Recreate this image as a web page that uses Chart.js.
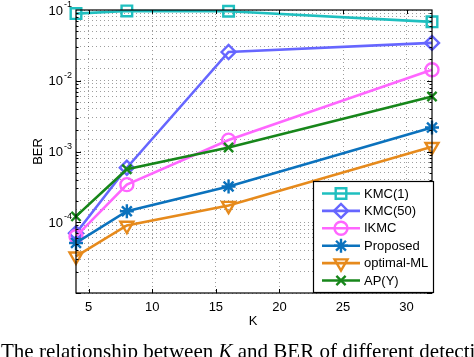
<!DOCTYPE html>
<html><head><meta charset="utf-8">
<script src="https://cdn.jsdelivr.net/npm/chart.js@4/dist/chart.umd.min.js"></script>
<style>html,body{margin:0;padding:0;background:#fff;}#wrap{width:474px;height:357px;position:relative;}</style>
</head><body><div id="wrap"><canvas id="c" width="474" height="357"></canvas></div>
<script>
const K = [4, 8, 16, 32];
const kmc1 = [0.089, 0.097, 0.096, 0.068];
const kmc50 = [7.0e-5, 5.9e-4, 0.0255, 0.0343];
const ikmc = [6.3e-5, 3.4e-4, 1.45e-3, 0.0143];
const proposed = [5.1e-5, 1.43e-4, 3.2e-4, 2.18e-3];
const optimalML = [3.3e-5, 9.0e-5, 1.72e-4, 1.17e-3];
const apY = [1.21e-4, 5.6e-4, 1.14e-3, 6.0e-3];
const xTicks = [5, 10, 15, 20, 25, 30];
const yMajor = [1e-4, 1e-3, 1e-2, 1e-1];
const yExp = ['-4', '-3', '-2', '-1'];
const seriesNames = ['KMC(1)', 'KMC(50)', 'IKMC', 'Proposed', 'optimal-ML', 'AP(Y)'];
const seriesData = [kmc1, kmc50, ikmc, proposed, optimalML, apY];
const colors = ['#1fbfbf', '#6666ff', '#ff66ff', '#0b72bd', '#e68a1c', '#17861a'];
const markers = [
  {style: 'rect', r: 7.5, rot: 0},
  {style: 'rectRot', r: 7, rot: 0},
  {style: 'circle', r: 6.5, rot: 0},
  {style: 'star', r: 7, rot: 0},
  {style: 'triangle', r: 7.5, rot: 180},
  {style: 'crossRot', r: 6.5, rot: 0}
];

const FONT = '"Liberation Sans", Arial, Helvetica, sans-serif';

const datasets = seriesNames.map((name, i) => ({
  label: name,
  data: K.map((k, j) => ({x: k, y: seriesData[i][j]})),
  borderColor: colors[i],
  backgroundColor: colors[i],
  borderWidth: 2.6,
  pointStyle: markers[i].style,
  pointRadius: markers[i].r,
  pointRotation: markers[i].rot,
  pointBorderWidth: 2.4,
  pointBackgroundColor: 'rgba(0,0,0,0)',
  pointBorderColor: colors[i],
  tension: 0,
  clip: false,
  order: 10 - i
}));

const decor = {
  id: 'decor',
  afterDraw(chart) {
    const ctx = chart.ctx;
    const a = chart.chartArea;
    const xs = chart.scales.x, ys = chart.scales.y;
    ctx.save();
    ctx.strokeStyle = '#000';
    ctx.lineWidth = 1.2;
    ctx.strokeRect(a.left, a.top, a.right - a.left, a.bottom - a.top);
    ctx.lineWidth = 1;
    ctx.beginPath();
    xTicks.forEach(v => {
      const px = Math.round(xs.getPixelForValue(v)) + 0.5;
      ctx.moveTo(px, a.bottom); ctx.lineTo(px, a.bottom - 4);
      ctx.moveTo(px, a.top); ctx.lineTo(px, a.top + 4);
    });
    for (let e = -5; e <= -2; e++) {
      for (let m = 1; m <= 9; m++) {
        const v = m * Math.pow(10, e);
        if (v < ys.min || v > ys.max) continue;
        const py = Math.round(ys.getPixelForValue(v)) + 0.5;
        const len = m === 1 ? 5 : 2.5;
        ctx.moveTo(a.left, py); ctx.lineTo(a.left + len, py);
        ctx.moveTo(a.right, py); ctx.lineTo(a.right - len, py);
      }
    }
    ctx.stroke();
    ctx.fillStyle = '#000';
    yMajor.forEach((v, i) => {
      const py = ys.getPixelForValue(v);
      ctx.font = '13px ' + FONT;
      ctx.textAlign = 'right';
      ctx.textBaseline = 'middle';
      ctx.fillText('10', 63, py + 1);
      ctx.font = '9px ' + FONT;
      ctx.textAlign = 'left';
      ctx.textBaseline = 'alphabetic';
      ctx.fillText(yExp[i], 64, py - 3);
    });
    ctx.save();
    ctx.translate(38, (a.top + a.bottom) / 2);
    ctx.rotate(-Math.PI / 2);
    ctx.font = '13px ' + FONT;
    ctx.textAlign = 'center';
    ctx.textBaseline = 'middle';
    ctx.fillText('BER', 0, 0);
    ctx.restore();
    ctx.font = '13px ' + FONT;
    ctx.textAlign = 'center';
    ctx.textBaseline = 'middle';
    ctx.fillText('K', 253, 321);
    const lx = 313, ly = 181, lw = 120, lh = 111;
    ctx.fillStyle = '#fff';
    ctx.fillRect(lx, ly, lw, lh);
    ctx.strokeStyle = '#000';
    ctx.lineWidth = 1.2;
    ctx.strokeRect(lx + 0.5, ly + 0.5, lw, lh);
    const drawPoint = Chart.helpers && Chart.helpers.drawPoint;
    seriesNames.forEach((name, i) => {
      const y = 193.5 + i * 17.4;
      ctx.strokeStyle = colors[i];
      ctx.lineWidth = 2.6;
      ctx.beginPath();
      ctx.moveTo(322, y); ctx.lineTo(360, y);
      ctx.stroke();
      if (drawPoint) {
        ctx.lineWidth = 2.4;
        ctx.fillStyle = 'rgba(0,0,0,0)';
        drawPoint(ctx, {pointStyle: markers[i].style, radius: markers[i].r, rotation: markers[i].rot, borderWidth: 2.4}, 341, y);
      }
      ctx.fillStyle = '#000';
      ctx.font = '13px ' + FONT;
      ctx.textAlign = 'left';
      ctx.textBaseline = 'middle';
      ctx.fillText(name, 364, y + 0.5);
    });
    ctx.fillStyle = '#000';
    ctx.textAlign = 'left';
    ctx.textBaseline = 'alphabetic';
    let cx = 1;
    const cy = 358;
    const parts = [['The relationship between ', ''], ['K', 'italic '], [' and BER of different detection', '']];
    parts.forEach(p => {
      ctx.font = p[1] + '21px "Liberation Serif", "Times New Roman", serif';
      ctx.fillText(p[0], cx, cy);
      cx += ctx.measureText(p[0]).width;
    });
    ctx.restore();
  }
};

new Chart(document.getElementById('c'), {
  type: 'line',
  data: {datasets},
  options: {
    responsive: false,
    animation: false,
    devicePixelRatio: 1,
    layout: {padding: {left: 0, right: 42, top: 10, bottom: 30}},
    plugins: {legend: {display: false}, tooltip: {enabled: false}},
    scales: {
      x: {
        type: 'linear', min: 4, max: 32,
        afterBuildTicks: s => { s.ticks = xTicks.map(v => ({value: v})); },
        afterFit: s => { s.height = 34; },
        grid: {color: 'rgba(0,0,0,0.38)', lineWidth: 1, drawTicks: false},
        border: {display: false, dash: [1, 3]},
        ticks: {color: '#000', font: {size: 13, family: FONT}, padding: 7, maxRotation: 0}
      },
      y: {
        type: 'logarithmic', min: 1e-5, max: 1e-1,
        afterFit: s => { s.width = 76; },
        grid: {color: 'rgba(0,0,0,0.38)', lineWidth: 1, drawTicks: false},
        border: {display: false, dash: [1, 3]},
        ticks: {callback: () => '', autoSkip: false, padding: 0}
      }
    }
  },
  plugins: [decor]
});
</script>
</body></html>
